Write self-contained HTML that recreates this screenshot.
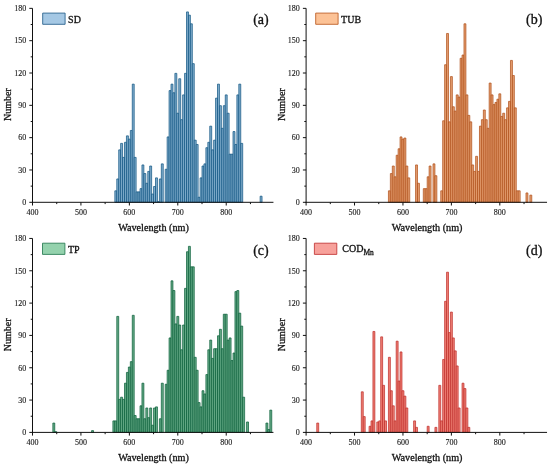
<!DOCTYPE html>
<html><head><meta charset="utf-8"><title>Wavelength histograms</title>
<style>
html,body{margin:0;padding:0;background:#fff;}
body{width:550px;height:467px;overflow:hidden;}
svg{display:block;}
svg text{stroke:#111;stroke-width:0.3px;paint-order:stroke;}
svg .tl text{stroke-width:0.12px;}
</style></head><body>
<svg width="550" height="467" viewBox="0 0 550 467" font-family="'Liberation Serif', 'Times New Roman', serif" stroke-linejoin="round">
<rect width="550" height="467" fill="#fff"/>
<g fill="#82aecd" stroke="#0b5180" stroke-width="0.7"><rect x="114.83" y="190.8" width="1.94" height="11.5"/><rect x="116.77" y="178.95" width="1.94" height="23.35"/><rect x="118.71" y="149.85" width="1.94" height="52.45"/><rect x="120.64" y="143.39" width="1.94" height="58.91"/><rect x="122.58" y="157.4" width="1.94" height="44.9"/><rect x="124.52" y="142.31" width="1.94" height="59.99"/><rect x="126.45" y="135.85" width="1.94" height="66.45"/><rect x="128.39" y="139.08" width="1.94" height="63.22"/><rect x="130.33" y="130.46" width="1.94" height="71.84"/><rect x="132.27" y="84.13" width="1.94" height="118.17"/><rect x="134.2" y="157.4" width="1.94" height="44.9"/><rect x="136.14" y="191.88" width="1.94" height="10.42"/><rect x="138.08" y="191.88" width="1.94" height="10.42"/><rect x="140.01" y="188.64" width="1.94" height="13.66"/><rect x="141.95" y="164.94" width="1.94" height="37.36"/><rect x="143.89" y="173.56" width="1.94" height="28.74"/><rect x="145.83" y="183.26" width="1.94" height="19.04"/><rect x="147.76" y="171.4" width="1.94" height="30.9"/><rect x="149.7" y="166.02" width="1.94" height="36.28"/><rect x="151.64" y="194.03" width="1.94" height="8.27"/><rect x="153.57" y="186.49" width="1.94" height="15.81"/><rect x="155.51" y="177.87" width="1.94" height="24.43"/><rect x="157.45" y="201.57" width="1.94" height="0.73"/><rect x="159.39" y="178.95" width="1.94" height="23.35"/><rect x="161.32" y="163.86" width="1.94" height="38.44"/><rect x="165.2" y="169.25" width="1.94" height="33.05"/><rect x="167.14" y="136.92" width="1.94" height="65.38"/><rect x="169.07" y="90.59" width="1.94" height="111.71"/><rect x="171.01" y="84.13" width="1.94" height="118.17"/><rect x="172.95" y="92.75" width="1.94" height="109.55"/><rect x="174.88" y="73.35" width="1.94" height="128.95"/><rect x="176.82" y="113.22" width="1.94" height="89.08"/><rect x="178.76" y="78.74" width="1.94" height="123.56"/><rect x="180.7" y="119.68" width="1.94" height="82.62"/><rect x="182.63" y="94.9" width="1.94" height="107.4"/><rect x="184.57" y="73.35" width="1.94" height="128.95"/><rect x="186.51" y="11.93" width="1.94" height="190.37"/><rect x="188.44" y="15.17" width="1.94" height="187.13"/><rect x="190.38" y="23.79" width="1.94" height="178.51"/><rect x="192.32" y="63.65" width="1.94" height="138.65"/><rect x="194.26" y="140.16" width="1.94" height="62.14"/><rect x="196.19" y="144.47" width="1.94" height="57.83"/><rect x="198.13" y="197.26" width="1.94" height="5.04"/><rect x="200.07" y="177.87" width="1.94" height="24.43"/><rect x="202" y="166.02" width="1.94" height="36.28"/><rect x="203.94" y="163.86" width="1.94" height="38.44"/><rect x="205.88" y="147.7" width="1.94" height="54.6"/><rect x="207.82" y="142.31" width="1.94" height="59.99"/><rect x="209.75" y="126.15" width="1.94" height="76.15"/><rect x="211.69" y="149.85" width="1.94" height="52.45"/><rect x="213.63" y="140.16" width="1.94" height="62.14"/><rect x="215.57" y="98.13" width="1.94" height="104.17"/><rect x="217.5" y="84.13" width="1.94" height="118.17"/><rect x="219.44" y="105.68" width="1.94" height="96.62"/><rect x="221.38" y="128.3" width="1.94" height="74"/><rect x="223.31" y="105.68" width="1.94" height="96.62"/><rect x="225.25" y="94.9" width="1.94" height="107.4"/><rect x="227.19" y="113.22" width="1.94" height="89.08"/><rect x="229.13" y="154.16" width="1.94" height="48.14"/><rect x="231.06" y="154.16" width="1.94" height="48.14"/><rect x="233" y="131.54" width="1.94" height="70.77"/><rect x="234.94" y="144.47" width="1.94" height="57.83"/><rect x="236.87" y="94.9" width="1.94" height="107.4"/><rect x="238.81" y="84.13" width="1.94" height="118.17"/><rect x="240.75" y="143.39" width="1.94" height="58.91"/><rect x="260.12" y="196.19" width="1.94" height="6.12"/></g>
<g stroke="#111" stroke-width="1" fill="none"><line x1="32.5" y1="8.35" x2="32.5" y2="202.8"/><line x1="32" y1="202.3" x2="273.44" y2="202.3"/><line x1="29.3" y1="202.3" x2="32.5" y2="202.3"/><line x1="30.7" y1="186.14" x2="32.5" y2="186.14"/><line x1="29.3" y1="169.98" x2="32.5" y2="169.98"/><line x1="30.7" y1="153.81" x2="32.5" y2="153.81"/><line x1="29.3" y1="137.65" x2="32.5" y2="137.65"/><line x1="30.7" y1="121.49" x2="32.5" y2="121.49"/><line x1="29.3" y1="105.33" x2="32.5" y2="105.33"/><line x1="30.7" y1="89.16" x2="32.5" y2="89.16"/><line x1="29.3" y1="73" x2="32.5" y2="73"/><line x1="30.7" y1="56.84" x2="32.5" y2="56.84"/><line x1="29.3" y1="40.68" x2="32.5" y2="40.68"/><line x1="30.7" y1="24.51" x2="32.5" y2="24.51"/><line x1="29.3" y1="8.35" x2="32.5" y2="8.35"/><line x1="32.5" y1="202.3" x2="32.5" y2="205.5"/><line x1="56.72" y1="202.3" x2="56.72" y2="204.1"/><line x1="80.93" y1="202.3" x2="80.93" y2="205.5"/><line x1="105.14" y1="202.3" x2="105.14" y2="204.1"/><line x1="129.36" y1="202.3" x2="129.36" y2="205.5"/><line x1="153.57" y1="202.3" x2="153.57" y2="204.1"/><line x1="177.79" y1="202.3" x2="177.79" y2="205.5"/><line x1="202" y1="202.3" x2="202" y2="204.1"/><line x1="226.22" y1="202.3" x2="226.22" y2="205.5"/><line x1="250.44" y1="202.3" x2="250.44" y2="204.1"/></g>
<g class="tl" font-size="8" fill="#1a1a1a"><text x="26.2" y="205.1" text-anchor="end">0</text><text x="26.2" y="172.78" text-anchor="end">30</text><text x="26.2" y="140.45" text-anchor="end">60</text><text x="26.2" y="108.13" text-anchor="end">90</text><text x="26.2" y="75.8" text-anchor="end">120</text><text x="26.2" y="43.48" text-anchor="end">150</text><text x="26.2" y="11.15" text-anchor="end">180</text><text x="32.5" y="215" text-anchor="middle">400</text><text x="80.93" y="215" text-anchor="middle">500</text><text x="129.36" y="215" text-anchor="middle">600</text><text x="177.79" y="215" text-anchor="middle">700</text><text x="226.22" y="215" text-anchor="middle">800</text></g>
<text x="153.5" y="230.9" font-size="10.2" text-anchor="middle" fill="#111">Wavelength (nm)</text>
<text transform="translate(11.3 104.7) rotate(-90)" font-size="10" text-anchor="middle" fill="#111">Number</text>
<rect x="42.7" y="13.1" width="22.4" height="11.2" fill="#a5c8e4" stroke="#2d6590" stroke-width="0.9"/>
<text x="68.1" y="22.6" font-size="10" fill="#111">SD</text>
<text x="268.7" y="24.4" font-size="14" text-anchor="end" fill="#111">(a)</text>
<g fill="#e59f71" stroke="#ad4c16" stroke-width="0.7"><rect x="388.43" y="190.8" width="1.94" height="11.5"/><rect x="390.37" y="173.56" width="1.94" height="28.74"/><rect x="392.31" y="166.02" width="1.94" height="36.28"/><rect x="394.24" y="176.79" width="1.94" height="25.51"/><rect x="396.18" y="155.24" width="1.94" height="47.06"/><rect x="398.12" y="148.78" width="1.94" height="53.52"/><rect x="400.05" y="136.92" width="1.94" height="65.38"/><rect x="401.99" y="139.08" width="1.94" height="63.22"/><rect x="403.93" y="138" width="1.94" height="64.3"/><rect x="405.87" y="166.02" width="1.94" height="36.28"/><rect x="407.8" y="177.87" width="1.94" height="24.43"/><rect x="415.55" y="164.94" width="1.94" height="37.36"/><rect x="417.49" y="183.26" width="1.94" height="19.04"/><rect x="423.3" y="188.64" width="1.94" height="13.66"/><rect x="425.24" y="188.64" width="1.94" height="13.66"/><rect x="427.18" y="176.79" width="1.94" height="25.51"/><rect x="429.11" y="166.02" width="1.94" height="36.28"/><rect x="432.99" y="163.86" width="1.94" height="38.44"/><rect x="434.92" y="175.71" width="1.94" height="26.59"/><rect x="440.74" y="190.8" width="1.94" height="11.5"/><rect x="442.67" y="120.76" width="1.94" height="81.54"/><rect x="444.61" y="64.73" width="1.94" height="137.57"/><rect x="446.55" y="33.48" width="1.94" height="168.82"/><rect x="448.48" y="121.84" width="1.94" height="80.46"/><rect x="450.42" y="76.58" width="1.94" height="125.72"/><rect x="452.36" y="106.75" width="1.94" height="95.55"/><rect x="454.3" y="111.06" width="1.94" height="91.24"/><rect x="456.23" y="94.9" width="1.94" height="107.4"/><rect x="458.17" y="97.06" width="1.94" height="105.24"/><rect x="460.11" y="58.27" width="1.94" height="144.03"/><rect x="462.04" y="55.03" width="1.94" height="147.27"/><rect x="463.98" y="23.79" width="1.94" height="178.51"/><rect x="465.92" y="94.9" width="1.94" height="107.4"/><rect x="467.86" y="115.37" width="1.94" height="86.93"/><rect x="469.79" y="121.84" width="1.94" height="80.46"/><rect x="471.73" y="164.94" width="1.94" height="37.36"/><rect x="473.67" y="171.4" width="1.94" height="30.9"/><rect x="475.61" y="156.32" width="1.94" height="45.98"/><rect x="477.54" y="171.4" width="1.94" height="30.9"/><rect x="479.48" y="126.15" width="1.94" height="76.15"/><rect x="481.42" y="119.68" width="1.94" height="82.62"/><rect x="483.35" y="109.99" width="1.94" height="92.31"/><rect x="485.29" y="119.68" width="1.94" height="82.62"/><rect x="487.23" y="128.3" width="1.94" height="74"/><rect x="489.17" y="83.05" width="1.94" height="119.25"/><rect x="491.1" y="94.9" width="1.94" height="107.4"/><rect x="493.04" y="104.6" width="1.94" height="97.7"/><rect x="494.98" y="102.44" width="1.94" height="99.86"/><rect x="496.91" y="99.21" width="1.94" height="103.09"/><rect x="498.85" y="93.82" width="1.94" height="108.48"/><rect x="500.79" y="116.45" width="1.94" height="85.85"/><rect x="502.73" y="113.22" width="1.94" height="89.08"/><rect x="504.66" y="119.68" width="1.94" height="82.62"/><rect x="506.6" y="107.83" width="1.94" height="94.47"/><rect x="508.54" y="101.37" width="1.94" height="100.94"/><rect x="510.47" y="60.42" width="1.94" height="141.88"/><rect x="512.41" y="75.51" width="1.94" height="126.79"/><rect x="514.35" y="107.83" width="1.94" height="94.47"/><rect x="516.29" y="190.8" width="1.94" height="11.5"/><rect x="518.22" y="190.8" width="1.94" height="11.5"/><rect x="525.97" y="192.95" width="1.94" height="9.35"/><rect x="529.85" y="195.11" width="1.94" height="7.19"/></g>
<g stroke="#111" stroke-width="1" fill="none"><line x1="306.1" y1="8.35" x2="306.1" y2="202.8"/><line x1="305.6" y1="202.3" x2="547.04" y2="202.3"/><line x1="302.9" y1="202.3" x2="306.1" y2="202.3"/><line x1="304.3" y1="186.14" x2="306.1" y2="186.14"/><line x1="302.9" y1="169.98" x2="306.1" y2="169.98"/><line x1="304.3" y1="153.81" x2="306.1" y2="153.81"/><line x1="302.9" y1="137.65" x2="306.1" y2="137.65"/><line x1="304.3" y1="121.49" x2="306.1" y2="121.49"/><line x1="302.9" y1="105.33" x2="306.1" y2="105.33"/><line x1="304.3" y1="89.16" x2="306.1" y2="89.16"/><line x1="302.9" y1="73" x2="306.1" y2="73"/><line x1="304.3" y1="56.84" x2="306.1" y2="56.84"/><line x1="302.9" y1="40.68" x2="306.1" y2="40.68"/><line x1="304.3" y1="24.51" x2="306.1" y2="24.51"/><line x1="302.9" y1="8.35" x2="306.1" y2="8.35"/><line x1="306.1" y1="202.3" x2="306.1" y2="205.5"/><line x1="330.31" y1="202.3" x2="330.31" y2="204.1"/><line x1="354.53" y1="202.3" x2="354.53" y2="205.5"/><line x1="378.75" y1="202.3" x2="378.75" y2="204.1"/><line x1="402.96" y1="202.3" x2="402.96" y2="205.5"/><line x1="427.18" y1="202.3" x2="427.18" y2="204.1"/><line x1="451.39" y1="202.3" x2="451.39" y2="205.5"/><line x1="475.61" y1="202.3" x2="475.61" y2="204.1"/><line x1="499.82" y1="202.3" x2="499.82" y2="205.5"/><line x1="524.04" y1="202.3" x2="524.04" y2="204.1"/></g>
<g class="tl" font-size="8" fill="#1a1a1a"><text x="299.8" y="205.1" text-anchor="end">0</text><text x="299.8" y="172.78" text-anchor="end">30</text><text x="299.8" y="140.45" text-anchor="end">60</text><text x="299.8" y="108.13" text-anchor="end">90</text><text x="299.8" y="75.8" text-anchor="end">120</text><text x="299.8" y="43.48" text-anchor="end">150</text><text x="299.8" y="11.15" text-anchor="end">180</text><text x="306.1" y="215" text-anchor="middle">400</text><text x="354.53" y="215" text-anchor="middle">500</text><text x="402.96" y="215" text-anchor="middle">600</text><text x="451.39" y="215" text-anchor="middle">700</text><text x="499.82" y="215" text-anchor="middle">800</text></g>
<text x="427.1" y="230.9" font-size="10.2" text-anchor="middle" fill="#111">Wavelength (nm)</text>
<text transform="translate(284.9 104.7) rotate(-90)" font-size="10" text-anchor="middle" fill="#111">Number</text>
<rect x="315.7" y="13.1" width="22.4" height="11.2" fill="#fcc296" stroke="#c0622a" stroke-width="0.9"/>
<text x="341.1" y="22.6" font-size="10" fill="#111">TUB</text>
<text x="542.3" y="24.4" font-size="14" text-anchor="end" fill="#111">(b)</text>
<g fill="#67ab88" stroke="#065b37" stroke-width="0.7"><rect x="52.84" y="423.05" width="1.94" height="9.35"/><rect x="54.78" y="431.67" width="1.94" height="0.73"/><rect x="91.58" y="430.59" width="1.94" height="1.8"/><rect x="112.89" y="420.9" width="1.94" height="11.5"/><rect x="114.83" y="420.9" width="1.94" height="11.5"/><rect x="116.77" y="316.38" width="1.94" height="116.02"/><rect x="118.71" y="399.35" width="1.94" height="33.05"/><rect x="120.64" y="397.19" width="1.94" height="35.21"/><rect x="122.58" y="399.35" width="1.94" height="33.05"/><rect x="124.52" y="383.19" width="1.94" height="49.21"/><rect x="126.45" y="372.41" width="1.94" height="59.99"/><rect x="128.39" y="367.02" width="1.94" height="65.38"/><rect x="130.33" y="361.63" width="1.94" height="70.77"/><rect x="132.27" y="315.3" width="1.94" height="117.1"/><rect x="134.2" y="415.51" width="1.94" height="16.89"/><rect x="136.14" y="418.74" width="1.94" height="13.66"/><rect x="138.08" y="418.74" width="1.94" height="13.66"/><rect x="140.01" y="405.81" width="1.94" height="26.59"/><rect x="141.95" y="383.19" width="1.94" height="49.21"/><rect x="143.89" y="418.74" width="1.94" height="13.66"/><rect x="145.83" y="407.97" width="1.94" height="24.43"/><rect x="147.76" y="417.66" width="1.94" height="14.73"/><rect x="149.7" y="407.97" width="1.94" height="24.43"/><rect x="151.64" y="425.21" width="1.94" height="7.19"/><rect x="153.57" y="407.97" width="1.94" height="24.43"/><rect x="155.51" y="406.89" width="1.94" height="25.51"/><rect x="159.39" y="418.74" width="1.94" height="13.66"/><rect x="161.32" y="383.19" width="1.94" height="49.21"/><rect x="165.2" y="384.26" width="1.94" height="48.14"/><rect x="167.14" y="370.25" width="1.94" height="62.14"/><rect x="169.07" y="337.93" width="1.94" height="94.47"/><rect x="171.01" y="280.82" width="1.94" height="151.58"/><rect x="172.95" y="290.52" width="1.94" height="141.88"/><rect x="174.88" y="323.92" width="1.94" height="108.48"/><rect x="176.82" y="316.38" width="1.94" height="116.02"/><rect x="178.76" y="325" width="1.94" height="107.4"/><rect x="180.7" y="349.78" width="1.94" height="82.62"/><rect x="182.63" y="325" width="1.94" height="107.4"/><rect x="184.57" y="288.37" width="1.94" height="144.03"/><rect x="186.51" y="251.73" width="1.94" height="180.67"/><rect x="188.44" y="246.34" width="1.94" height="186.06"/><rect x="190.38" y="266.81" width="1.94" height="165.58"/><rect x="192.32" y="266.81" width="1.94" height="165.58"/><rect x="194.26" y="357.32" width="1.94" height="75.08"/><rect x="196.19" y="370.25" width="1.94" height="62.14"/><rect x="198.13" y="402.58" width="1.94" height="29.82"/><rect x="200.07" y="406.89" width="1.94" height="25.51"/><rect x="202" y="390.73" width="1.94" height="41.67"/><rect x="203.94" y="393.96" width="1.94" height="38.44"/><rect x="205.88" y="374.56" width="1.94" height="57.83"/><rect x="207.82" y="349.78" width="1.94" height="82.62"/><rect x="209.75" y="340.08" width="1.94" height="92.31"/><rect x="211.69" y="358.4" width="1.94" height="74"/><rect x="213.63" y="348.7" width="1.94" height="83.69"/><rect x="215.57" y="348.7" width="1.94" height="83.69"/><rect x="217.5" y="335.77" width="1.94" height="96.62"/><rect x="219.44" y="329.31" width="1.94" height="103.09"/><rect x="221.38" y="348.7" width="1.94" height="83.69"/><rect x="223.31" y="314.22" width="1.94" height="118.17"/><rect x="225.25" y="314.22" width="1.94" height="118.17"/><rect x="227.19" y="340.08" width="1.94" height="92.31"/><rect x="229.13" y="337.93" width="1.94" height="94.47"/><rect x="231.06" y="360.56" width="1.94" height="71.84"/><rect x="233" y="353.01" width="1.94" height="79.39"/><rect x="234.94" y="291.6" width="1.94" height="140.8"/><rect x="236.87" y="290.52" width="1.94" height="141.88"/><rect x="238.81" y="313.15" width="1.94" height="119.25"/><rect x="240.75" y="326.08" width="1.94" height="106.32"/><rect x="242.69" y="397.19" width="1.94" height="35.21"/><rect x="246.56" y="421.97" width="1.94" height="10.42"/><rect x="265.93" y="423.05" width="1.94" height="9.35"/><rect x="267.87" y="429.52" width="1.94" height="2.88"/><rect x="269.81" y="410.12" width="1.94" height="22.28"/></g>
<g stroke="#111" stroke-width="1" fill="none"><line x1="32.5" y1="238.45" x2="32.5" y2="432.9"/><line x1="32" y1="432.4" x2="273.44" y2="432.4"/><line x1="29.3" y1="432.4" x2="32.5" y2="432.4"/><line x1="30.7" y1="416.24" x2="32.5" y2="416.24"/><line x1="29.3" y1="400.07" x2="32.5" y2="400.07"/><line x1="30.7" y1="383.91" x2="32.5" y2="383.91"/><line x1="29.3" y1="367.75" x2="32.5" y2="367.75"/><line x1="30.7" y1="351.59" x2="32.5" y2="351.59"/><line x1="29.3" y1="335.42" x2="32.5" y2="335.42"/><line x1="30.7" y1="319.26" x2="32.5" y2="319.26"/><line x1="29.3" y1="303.1" x2="32.5" y2="303.1"/><line x1="30.7" y1="286.94" x2="32.5" y2="286.94"/><line x1="29.3" y1="270.77" x2="32.5" y2="270.77"/><line x1="30.7" y1="254.61" x2="32.5" y2="254.61"/><line x1="29.3" y1="238.45" x2="32.5" y2="238.45"/><line x1="32.5" y1="432.4" x2="32.5" y2="435.6"/><line x1="56.72" y1="432.4" x2="56.72" y2="434.2"/><line x1="80.93" y1="432.4" x2="80.93" y2="435.6"/><line x1="105.14" y1="432.4" x2="105.14" y2="434.2"/><line x1="129.36" y1="432.4" x2="129.36" y2="435.6"/><line x1="153.57" y1="432.4" x2="153.57" y2="434.2"/><line x1="177.79" y1="432.4" x2="177.79" y2="435.6"/><line x1="202" y1="432.4" x2="202" y2="434.2"/><line x1="226.22" y1="432.4" x2="226.22" y2="435.6"/><line x1="250.44" y1="432.4" x2="250.44" y2="434.2"/></g>
<g class="tl" font-size="8" fill="#1a1a1a"><text x="26.2" y="435.2" text-anchor="end">0</text><text x="26.2" y="402.88" text-anchor="end">30</text><text x="26.2" y="370.55" text-anchor="end">60</text><text x="26.2" y="338.22" text-anchor="end">90</text><text x="26.2" y="305.9" text-anchor="end">120</text><text x="26.2" y="273.57" text-anchor="end">150</text><text x="26.2" y="241.25" text-anchor="end">180</text><text x="32.5" y="445.1" text-anchor="middle">400</text><text x="80.93" y="445.1" text-anchor="middle">500</text><text x="129.36" y="445.1" text-anchor="middle">600</text><text x="177.79" y="445.1" text-anchor="middle">700</text><text x="226.22" y="445.1" text-anchor="middle">800</text></g>
<text x="153.5" y="461" font-size="10.2" text-anchor="middle" fill="#111">Wavelength (nm)</text>
<text transform="translate(11.3 334.8) rotate(-90)" font-size="10" text-anchor="middle" fill="#111">Number</text>
<rect x="42.5" y="243.2" width="22.4" height="11.2" fill="#94d2ad" stroke="#2f8058" stroke-width="0.9"/>
<text x="67.9" y="252.7" font-size="10" fill="#111">TP</text>
<text x="268.7" y="254.5" font-size="14" text-anchor="end" fill="#111">(c)</text>
<g fill="#ef8075" stroke="#bd2a26" stroke-width="0.7"><rect x="316.75" y="423.05" width="1.94" height="9.35"/><rect x="361.31" y="391.81" width="1.94" height="40.59"/><rect x="363.25" y="416.59" width="1.94" height="15.81"/><rect x="369.06" y="426.28" width="1.94" height="6.12"/><rect x="371" y="420.9" width="1.94" height="11.5"/><rect x="372.93" y="331.46" width="1.94" height="100.94"/><rect x="376.81" y="421.97" width="1.94" height="10.42"/><rect x="378.75" y="420.9" width="1.94" height="11.5"/><rect x="380.68" y="336.85" width="1.94" height="95.55"/><rect x="382.62" y="385.34" width="1.94" height="47.06"/><rect x="384.56" y="420.9" width="1.94" height="11.5"/><rect x="388.43" y="357.32" width="1.94" height="75.08"/><rect x="390.37" y="390.73" width="1.94" height="41.67"/><rect x="392.31" y="405.81" width="1.94" height="26.59"/><rect x="394.24" y="420.9" width="1.94" height="11.5"/><rect x="396.18" y="341.16" width="1.94" height="91.24"/><rect x="398.12" y="381.03" width="1.94" height="51.37"/><rect x="400.05" y="351.94" width="1.94" height="80.46"/><rect x="401.99" y="390.73" width="1.94" height="41.67"/><rect x="403.93" y="396.12" width="1.94" height="36.28"/><rect x="405.87" y="407.97" width="1.94" height="24.43"/><rect x="413.61" y="420.9" width="1.94" height="11.5"/><rect x="415.55" y="427.36" width="1.94" height="5.04"/><rect x="427.18" y="426.28" width="1.94" height="6.12"/><rect x="434.92" y="427.36" width="1.94" height="5.04"/><rect x="438.8" y="385.34" width="1.94" height="47.06"/><rect x="440.74" y="420.9" width="1.94" height="11.5"/><rect x="442.67" y="359.48" width="1.94" height="72.92"/><rect x="444.61" y="301.29" width="1.94" height="131.1"/><rect x="446.55" y="272.2" width="1.94" height="160.2"/><rect x="448.48" y="332.54" width="1.94" height="99.86"/><rect x="450.42" y="312.07" width="1.94" height="120.33"/><rect x="452.36" y="337.93" width="1.94" height="94.47"/><rect x="454.3" y="350.86" width="1.94" height="81.54"/><rect x="456.23" y="365.94" width="1.94" height="66.45"/><rect x="458.17" y="407.97" width="1.94" height="24.43"/><rect x="462.04" y="383.19" width="1.94" height="49.21"/><rect x="463.98" y="388.57" width="1.94" height="43.83"/><rect x="465.92" y="407.97" width="1.94" height="24.43"/><rect x="467.86" y="427.36" width="1.94" height="5.04"/></g>
<g stroke="#111" stroke-width="1" fill="none"><line x1="306.1" y1="238.45" x2="306.1" y2="432.9"/><line x1="305.6" y1="432.4" x2="547.04" y2="432.4"/><line x1="302.9" y1="432.4" x2="306.1" y2="432.4"/><line x1="304.3" y1="416.24" x2="306.1" y2="416.24"/><line x1="302.9" y1="400.07" x2="306.1" y2="400.07"/><line x1="304.3" y1="383.91" x2="306.1" y2="383.91"/><line x1="302.9" y1="367.75" x2="306.1" y2="367.75"/><line x1="304.3" y1="351.59" x2="306.1" y2="351.59"/><line x1="302.9" y1="335.42" x2="306.1" y2="335.42"/><line x1="304.3" y1="319.26" x2="306.1" y2="319.26"/><line x1="302.9" y1="303.1" x2="306.1" y2="303.1"/><line x1="304.3" y1="286.94" x2="306.1" y2="286.94"/><line x1="302.9" y1="270.77" x2="306.1" y2="270.77"/><line x1="304.3" y1="254.61" x2="306.1" y2="254.61"/><line x1="302.9" y1="238.45" x2="306.1" y2="238.45"/><line x1="306.1" y1="432.4" x2="306.1" y2="435.6"/><line x1="330.31" y1="432.4" x2="330.31" y2="434.2"/><line x1="354.53" y1="432.4" x2="354.53" y2="435.6"/><line x1="378.75" y1="432.4" x2="378.75" y2="434.2"/><line x1="402.96" y1="432.4" x2="402.96" y2="435.6"/><line x1="427.18" y1="432.4" x2="427.18" y2="434.2"/><line x1="451.39" y1="432.4" x2="451.39" y2="435.6"/><line x1="475.61" y1="432.4" x2="475.61" y2="434.2"/><line x1="499.82" y1="432.4" x2="499.82" y2="435.6"/><line x1="524.04" y1="432.4" x2="524.04" y2="434.2"/></g>
<g class="tl" font-size="8" fill="#1a1a1a"><text x="299.8" y="435.2" text-anchor="end">0</text><text x="299.8" y="402.88" text-anchor="end">30</text><text x="299.8" y="370.55" text-anchor="end">60</text><text x="299.8" y="338.22" text-anchor="end">90</text><text x="299.8" y="305.9" text-anchor="end">120</text><text x="299.8" y="273.57" text-anchor="end">150</text><text x="299.8" y="241.25" text-anchor="end">180</text><text x="306.1" y="445.1" text-anchor="middle">400</text><text x="354.53" y="445.1" text-anchor="middle">500</text><text x="402.96" y="445.1" text-anchor="middle">600</text><text x="451.39" y="445.1" text-anchor="middle">700</text><text x="499.82" y="445.1" text-anchor="middle">800</text></g>
<text x="427.1" y="461" font-size="10.2" text-anchor="middle" fill="#111">Wavelength (nm)</text>
<text transform="translate(284.9 334.8) rotate(-90)" font-size="10" text-anchor="middle" fill="#111">Number</text>
<rect x="314.4" y="243.2" width="22.4" height="11.2" fill="#f7a19b" stroke="#c43c3c" stroke-width="0.9"/>
<text x="342.3" y="251.7" font-size="10" fill="#111">COD<tspan font-size="7.4" dy="2.9">Mn</tspan></text>
<text x="542.3" y="254.5" font-size="14" text-anchor="end" fill="#111">(d)</text>
</svg>
</body></html>
